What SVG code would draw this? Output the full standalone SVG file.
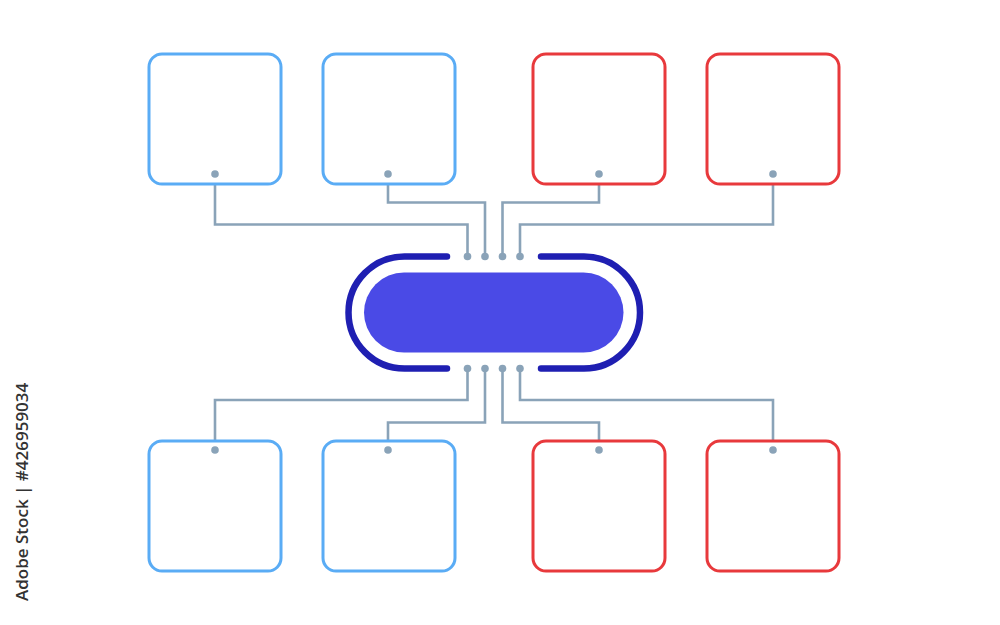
<svg xmlns="http://www.w3.org/2000/svg" width="1000" height="625" viewBox="0 0 1000 625">
<style>
.blue{fill:#fff;stroke:#5aacf5;stroke-width:3}
.red{fill:#fff;stroke:#e8393c;stroke-width:3}
.wire{fill:none;stroke:#8aa3b8;stroke-width:2.6}
.dot{fill:#8aa3b8}
.ring{fill:none;stroke:#1f1fb2;stroke-width:6.5;stroke-linecap:round}
.core{fill:#4a4ae6}
.wm{font-family:"Open Sans","Liberation Sans",sans-serif;font-size:17px;fill:#333;font-weight:600}
</style>
<rect width="1000" height="625" fill="#fff"/>
<g id="connectors">
<path class="wire" d="M215 174V224.5H467.5V256.5"/>
<path class="wire" d="M388 174V202.5H485V256.5"/>
<path class="wire" d="M599 174V202.5H502.5V256.5"/>
<path class="wire" d="M773 174V224.5H520V256.5"/>
<path class="wire" d="M215 450V400H467.5V368.5"/>
<path class="wire" d="M388 450V422.5H485V368.5"/>
<path class="wire" d="M599 450V422.5H502.5V368.5"/>
<path class="wire" d="M773 450V400H520V368.5"/>
<circle class="dot" cx="467.5" cy="256.5" r="3.8"/>
<circle class="dot" cx="485" cy="256.5" r="3.8"/>
<circle class="dot" cx="502.5" cy="256.5" r="3.8"/>
<circle class="dot" cx="520" cy="256.5" r="3.8"/>
<circle class="dot" cx="467.5" cy="368.5" r="3.8"/>
<circle class="dot" cx="485" cy="368.5" r="3.8"/>
<circle class="dot" cx="502.5" cy="368.5" r="3.8"/>
<circle class="dot" cx="520" cy="368.5" r="3.8"/>
</g>
<g id="box-tl1"><rect class="blue" x="149" y="54" width="132" height="130" rx="13"/><circle class="dot" cx="215" cy="174" r="3.8"/></g>
<g id="box-tl2"><rect class="blue" x="323" y="54" width="132" height="130" rx="13"/><circle class="dot" cx="388" cy="174" r="3.8"/></g>
<g id="box-tr1"><rect class="red" x="533" y="54" width="132" height="130" rx="13"/><circle class="dot" cx="599" cy="174" r="3.8"/></g>
<g id="box-tr2"><rect class="red" x="707" y="54" width="132" height="130" rx="13"/><circle class="dot" cx="773" cy="174" r="3.8"/></g>
<g id="box-bl1"><rect class="blue" x="149" y="441" width="132" height="130" rx="13"/><circle class="dot" cx="215" cy="450" r="3.8"/></g>
<g id="box-bl2"><rect class="blue" x="323" y="441" width="132" height="130" rx="13"/><circle class="dot" cx="388" cy="450" r="3.8"/></g>
<g id="box-br1"><rect class="red" x="533" y="441" width="132" height="130" rx="13"/><circle class="dot" cx="599" cy="450" r="3.8"/></g>
<g id="box-br2"><rect class="red" x="707" y="441" width="132" height="130" rx="13"/><circle class="dot" cx="773" cy="450" r="3.8"/></g>
<g id="hub">
<path class="ring" d="M447 256.5H404.5A56 56 0 0 0 404.5 368.5H447"/>
<path class="ring" d="M541 256.5H584A56 56 0 0 1 584 368.5H541"/>
<rect class="core" x="364" y="272.5" width="259.5" height="80" rx="40"/>
</g>
<text class="wm" transform="translate(28 601) rotate(-90)">Adobe Stock | #426959034</text>
</svg>
